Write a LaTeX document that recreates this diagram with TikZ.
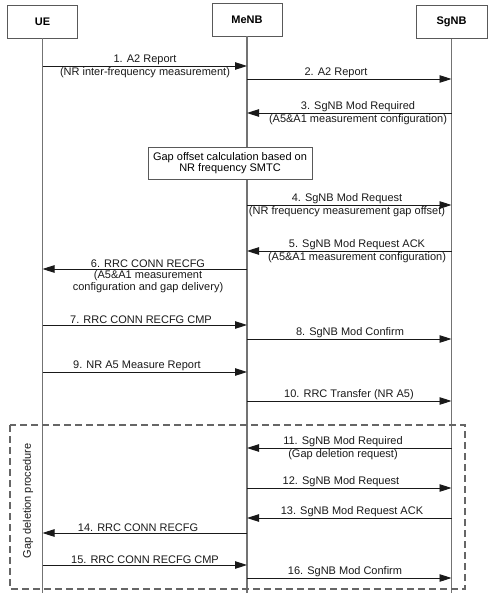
\documentclass[tikz,border=0pt]{standalone}
\usepackage{fontspec}
\setmainfont{Liberation Sans}
\usepackage{tikz}
\usetikzlibrary{arrows.meta,calc}

\begin{document}
\begin{tikzpicture}[x=1pt,y=-1pt,
  >={Triangle[length=12pt,width=7.5pt]},
  hdr/.style={draw=black!65,line width=0.9pt,fill=white,minimum width=70pt,minimum height=33pt,
              font=\fontsize{11}{12}\selectfont\bfseries},
  life/.style={draw=black!55,line width=1.1pt},
  msg/.style={->,draw=black!90,line width=0.9pt},
  lbl/.style={inner sep=1pt,align=center,text=black!90,font=\fontsize{11}{12}\selectfont},
  procbox/.style={draw=black!65,line width=0.9pt,fill=white,minimum width=164pt,minimum height=32pt,
                  align=center,inner sep=2pt,font=\fontsize{11}{10.5}\selectfont},
  frame/.style={draw=black!60,line width=1.2pt,dash pattern=on 7pt off 4pt}]
\useasboundingbox (0,0) rectangle (488,593);

% entities
\node[hdr] (ue) at (42.5,21.5) {UE};
\node[hdr] (menb) at (247,19.5) {MeNB};
\node[hdr,minimum width=71pt] (sgnb) at (451.5,22) {SgNB};
\foreach \n in {ue,menb,sgnb}{
 \coordinate (\n-end) at (\n |- 0,593);
 \draw[life] (\n.south) -- (\n-end);
 }

% gap deletion frame
\draw[frame] (10,425) rectangle (465,589);
\node[lbl,rotate=90] (gapdel) at (28,501) {Gap deletion procedure};

\node[procbox] (gap) at (230,163) {Gap offset calculation based on\\NR frequency SMTC};

% messages
\foreach \i/\y/\a/\b/\lx/\txt in {
 1/66/ue/menb/145/{1. A2 Report},
 2/79/menb/sgnb/336/{2. A2 Report},
 3/113/sgnb/menb/358/{3. SgNB Mod Required},
 4/205/menb/sgnb/347/{4. SgNB Mod Request},
 5/251/sgnb/menb/357/{5. SgNB Mod Request ACK},
 6/269/menb/ue/148/{6. RRC CONN RECFG},
 7/325/ue/menb/141/{7. RRC CONN RECFG CMP},
 8/339/menb/sgnb/350/{8. SgNB Mod Confirm},
 9/372/ue/menb/137/{9. NR A5 Measure Report},
 10/401/menb/sgnb/349/{10. RRC Transfer (NR A5)},
 11/448/sgnb/menb/343/{11. SgNB Mod Required},
 12/488/menb/sgnb/341/{12. SgNB Mod Request},
 13/518/sgnb/menb/352/{13. SgNB Mod Request ACK},
 14/533/menb/ue/138/{14. RRC CONN RECFG},
 15/565/ue/menb/145/{15. RRC CONN RECFG CMP},
 16/578/menb/sgnb/345/{16. SgNB Mod Confirm}}{
 \coordinate (s\i) at (\a |- 0,\y);
 \coordinate (e\i) at (\b |- 0,\y);
 \draw[msg] (s\i) -- (e\i);
 \node[lbl,anchor=south] (t\i) at (\lx,\y) {\txt};
 }

% second lines under the arrows
\foreach \i/\txt in {
 1/{(NR inter-frequency measurement)},
 3/{(A5\&A1 measurement configuration)},
 4/{(NR frequency measurement gap offset)},
 5/{(A5\&A1 measurement configuration)},
 6/{(A5\&A1 measurement\\configuration and gap delivery)},
 11/{(Gap deletion request)}}{
 \node[lbl,anchor=north] (n\i) at (t\i.south |- s\i) {\txt};
 }
\end{tikzpicture}
\end{document}
